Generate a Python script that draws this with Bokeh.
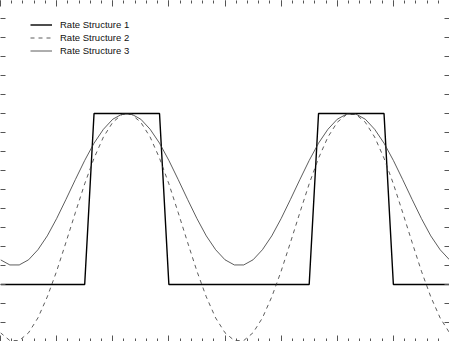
from bokeh.plotting import figure
from bokeh.models import (Range1d, LinearAxis, SingleIntervalTicker, Legend, LegendItem,
                          CustomJSTickFormatter)
from bokeh.embed import file_html
from bokeh.resources import INLINE

# hour of the two-day period
hours = list(range(49))

# Rate Structure 1: flat off-peak / on-peak step
rate1 = [0, 0, 0, 0, 0, 0, 0, 0, 0, 0, 9, 9, 9, 9, 9, 9, 9, 9, 0, 0, 0, 0, 0, 0,
         0, 0, 0, 0, 0, 0, 0, 0, 0, 0, 9, 9, 9, 9, 9, 9, 9, 9, 0, 0, 0, 0, 0, 0, 0]

# Rate Structure 2: wide smooth swing (dashed)
rate2 = [-2.54, -2.95, -2.95, -2.54, -1.76, -0.65, 0.70, 2.22, 3.78, 5.30, 6.65, 7.76,
         8.54, 8.95, 8.95, 8.54, 7.76, 6.65, 5.30, 3.78, 2.22, 0.70, -0.65, -1.76,
         -2.54, -2.95, -2.95, -2.54, -1.76, -0.65, 0.70, 2.22, 3.78, 5.30, 6.65, 7.76,
         8.54, 8.95, 8.95, 8.54, 7.76, 6.65, 5.30, 3.78, 2.22, 0.70, -0.65, -1.76, -2.54]

# Rate Structure 3: narrower smooth swing (thin solid)
rate3 = [1.30, 1.03, 1.03, 1.30, 1.83, 2.56, 3.47, 4.48, 5.52, 6.53, 7.44, 8.17,
         8.70, 8.97, 8.97, 8.70, 8.17, 7.44, 6.53, 5.52, 4.48, 3.47, 2.56, 1.83,
         1.30, 1.03, 1.03, 1.30, 1.83, 2.56, 3.47, 4.48, 5.52, 6.53, 7.44, 8.17,
         8.70, 8.97, 8.97, 8.70, 8.17, 7.44, 6.53, 5.52, 4.48, 3.47, 2.56, 1.83, 1.30]

labels = ["Rate Structure 1", "Rate Structure 2", "Rate Structure 3"]

p = figure(width=449, height=341, output_backend="svg", toolbar_location=None,
           x_range=Range1d(0, 48), y_range=Range1d(-3.0, 14.95),
           x_axis_location=None, y_axis_location=None, min_border=0)
p.outline_line_color = None
p.grid.visible = False
p.background_fill_color = "white"
p.border_fill_color = "white"


def make_axis(interval, minor, tin, min_in):
    return LinearAxis(
        ticker=SingleIntervalTicker(interval=interval, num_minor_ticks=minor),
        formatter=CustomJSTickFormatter(code="return ''"),
        axis_line_color=None,
        major_tick_in=tin, major_tick_out=0,
        minor_tick_in=min_in, minor_tick_out=0,
        major_tick_line_color="#555555", minor_tick_line_color="#555555",
        major_tick_line_width=1, minor_tick_line_width=1,
        major_label_text_font_size="0px", major_label_standoff=0,
    )


p.add_layout(make_axis(6, 5, 6, 3), "below")
p.add_layout(make_axis(6, 5, 6, 3), "above")
p.add_layout(make_axis(1, 0, 5, 0), "left")
p.add_layout(make_axis(1, 0, 5, 0), "right")

r1 = p.line(hours, rate1, line_color="black", line_width=1.4)
r2 = p.line(hours, rate2, line_color="#333333", line_width=0.8, line_dash="4 4")
r3 = p.line(hours, rate3, line_color="#333333", line_width=0.8)

legend = Legend(
    items=[LegendItem(label=labels[0], renderers=[r1]),
           LegendItem(label=labels[1], renderers=[r2]),
           LegendItem(label=labels[2], renderers=[r3])],
    location=(30, 284), padding=5, margin=0, spacing=0,
    glyph_width=22, glyph_height=13, label_height=13, label_standoff=8,
    label_text_font="Liberation Sans", label_text_font_size="9.5px",
    label_text_color="#111111",
    border_line_color=None, background_fill_alpha=0,
)
p.add_layout(legend, "center")

open("out.html", "w").write(file_html(p, INLINE))
